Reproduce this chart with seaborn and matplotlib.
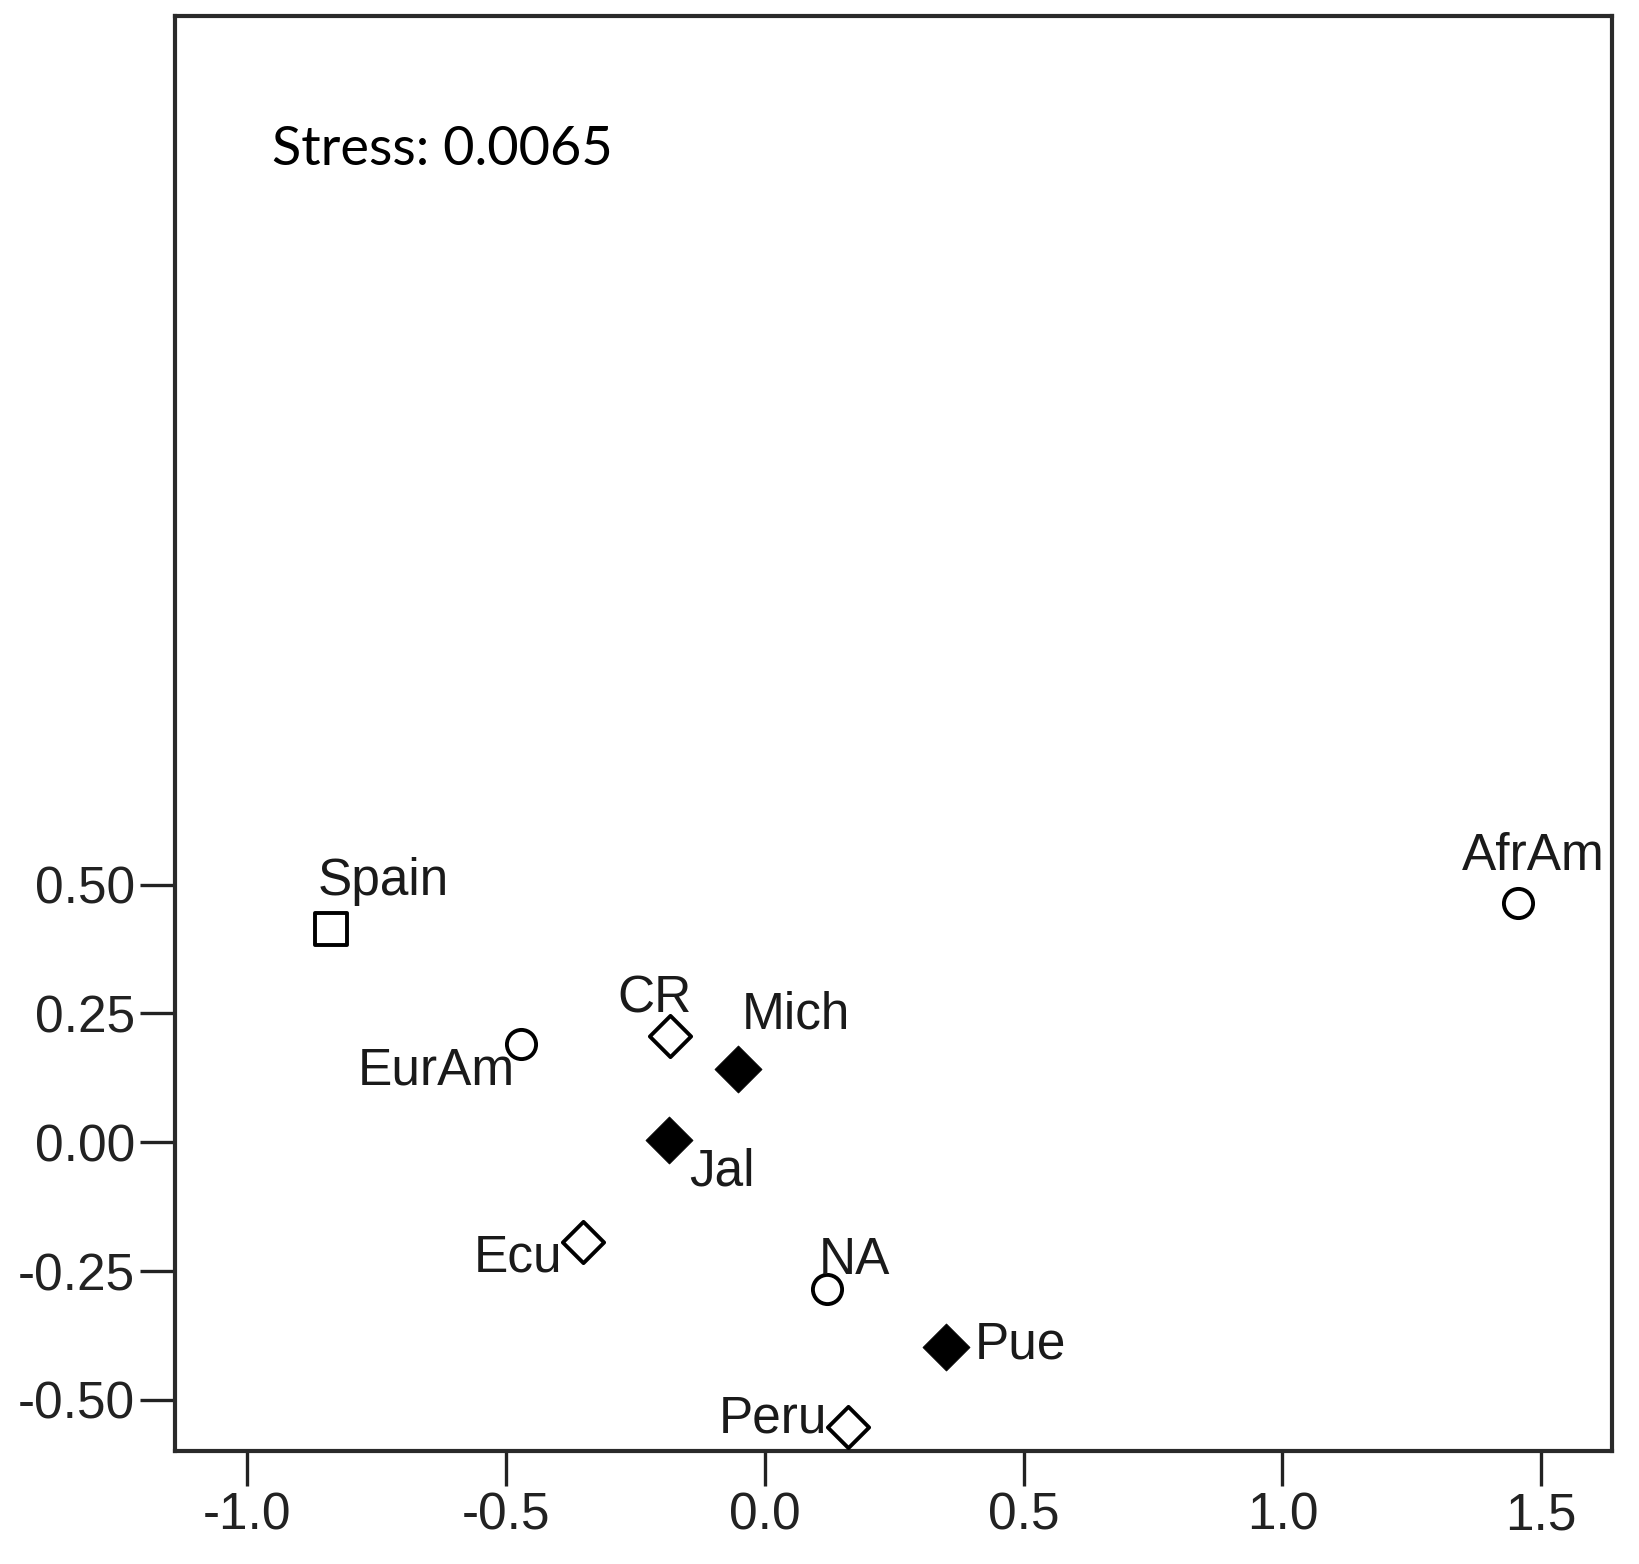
import matplotlib
matplotlib.use("Agg")
import matplotlib.pyplot as plt
import seaborn as sns
import pandas as pd
from matplotlib.ticker import FormatStrFormatter

# MDS points
names = ['Spain', 'AfrAm', 'EurAm', 'CR', 'Mich', 'Jal', 'Ecu', 'NA', 'Pue', 'Peru']
dim1 = [-0.838, 1.456, -0.472, -0.184, -0.053, -0.186, -0.352, 0.120, 0.349, 0.160]
dim2 = [0.414, 0.464, 0.190, 0.206, 0.142, 0.004, -0.194, -0.285, -0.398, -0.553]
group = ['square', 'circle', 'circle', 'open', 'filled', 'filled', 'open', 'circle', 'filled', 'open']

xticks = [-1.0, -0.5, 0.0, 0.5, 1.0, 1.5]
yticks = [-0.50, -0.25, 0.00, 0.25, 0.50]
stress_text = 'Stress: 0.0065'

df = pd.DataFrame({'name': names, 'dim1': dim1, 'dim2': dim2, 'group': group})

sns.set_style('white')
plt.rcParams['font.family'] = ['Liberation Sans', 'DejaVu Sans']
plt.rcParams['axes.unicode_minus'] = False

fig = plt.figure(figsize=(16.4, 15.64), dpi=100)
ax = fig.add_axes([0.107, 0.072, 0.876, 0.918])

# marker look per group
styles = {
    'circle': dict(marker='o', s=21**2, facecolor='white', edgecolor='black', linewidth=2.8),
    'square': dict(marker='s', s=23**2, facecolor='white', edgecolor='black', linewidth=2.8),
    'open':   dict(marker='D', s=21**2, facecolor='white', edgecolor='black', linewidth=2.8),
    'filled': dict(marker='D', s=24**2, facecolor='black', edgecolor='black', linewidth=0.5),
}
for g, st in styles.items():
    sub = df[df['group'] == g]
    sns.scatterplot(data=sub, x='dim1', y='dim2', ax=ax, legend=False, zorder=3, clip_on=False, **st)

# label offsets in points (dx, dy, ha)
offsets = {
    'Spain': (-10, 24, 'left'),
    'AfrAm': (-41, 24, 'left'),
    'EurAm': (-4, -29, 'right'),
    'CR':    (-38, 17, 'left'),
    'Mich':  (3, 29, 'left'),
    'Jal':   (15, -33, 'left'),
    'Ecu':   (-15, -21, 'right'),
    'NA':    (-6, 11, 'left'),
    'Pue':   (21, -8, 'left'),
    'Peru':  (-15, -4, 'right'),
}
for n, x, y in zip(names, dim1, dim2):
    dx, dy, ha = offsets[n]
    t = ax.annotate(n, (x, y), xytext=(dx, dy), textcoords='offset points',
                    ha=ha, va='baseline', fontsize=37, color='#1a1a1a')
    t.set_clip_on(True)
    t.set_clip_path(ax.patch)

ax.text(0.0675, 0.896, stress_text, transform=ax.transAxes, fontsize=39,
        family=['Lato', 'DejaVu Sans'], va='baseline', ha='left', color='black')

ax.set_xlim(-1.139, 1.637)
ax.set_ylim(-0.600, 2.186)
ax.set_xticks(xticks)
ax.set_yticks(yticks)
ax.xaxis.set_major_formatter(FormatStrFormatter('%.1f'))
ax.yaxis.set_major_formatter(FormatStrFormatter('%.2f'))
ax.set_xlabel('')
ax.set_ylabel('')
ax.tick_params(axis='both', direction='out', length=25, width=2.4, pad=4,
               labelsize=37, colors='#222222', left=True, bottom=True)
for sp in ax.spines.values():
    sp.set_linewidth(3)
    sp.set_color('#2a2a2a')

fig.savefig('out.png', dpi=100)
